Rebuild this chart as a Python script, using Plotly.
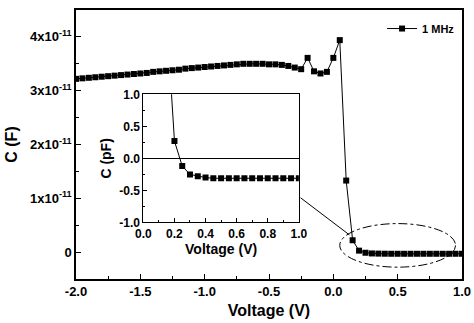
import plotly.graph_objects as go

# Voltage (V), step 0.05 from -2.0 to 1.0
voltage = [round(-2.0 + 0.05 * i, 2) for i in range(61)]
# Capacitance in pF
cap_pF = [
    32.2, 32.3, 32.4, 32.5, 32.6, 32.7, 32.8, 32.9, 33.0, 33.1,   # -2.00 .. -1.55
    33.2, 33.3, 33.5, 33.6, 33.7, 33.8, 33.9, 34.1, 34.2, 34.3,   # -1.50 .. -1.05
    34.4, 34.5, 34.6, 34.7, 34.8, 34.9, 35.0, 35.0, 35.0, 35.0,   # -1.00 .. -0.55
    34.9, 34.9, 34.8, 34.6, 34.3, 34.0, 36.1, 33.6, 33.2, 33.5,   # -0.50 .. -0.05
    36.1, 39.4, 13.3, 2.2, 0.27, -0.12, -0.25, -0.28, -0.30, -0.31,  # 0.00 .. 0.45
    -0.31, -0.31, -0.31, -0.31, -0.31, -0.31, -0.31, -0.31, -0.31, -0.31,  # 0.50 .. 0.95
    -0.31,                                                        # 1.00
]
series_name = "1 MHz"

main_x_ticks = [-2.0, -1.5, -1.0, -0.5, 0.0, 0.5, 1.0]
main_x_text = ["-2.0", "-1.5", "-1.0", "-0.5", "0.0", "0.5", "1.0"]
main_y_ticks = [0, 1e-11, 2e-11, 3e-11, 4e-11]
main_y_text = ["0", "1x10<sup>-11</sup>", "2x10<sup>-11</sup>", "3x10<sup>-11</sup>", "4x10<sup>-11</sup>"]
inset_x_ticks = [0.0, 0.2, 0.4, 0.6, 0.8, 1.0]
inset_x_text = ["0.0", "0.2", "0.4", "0.6", "0.8", "1.0"]
inset_y_ticks = [-1.0, -0.5, 0.0, 0.5, 1.0]
inset_y_text = ["-1.0", "-0.5", "0.0", "0.5", "1.0"]

cap_F = [c * 1e-12 for c in cap_pF]
inset_v = [v for v in voltage if v >= 0]
inset_c = [c for v, c in zip(voltage, cap_pF) if v >= 0]

FONT = "Liberation Sans, Arial, sans-serif"
mk = dict(symbol="square", size=6, color="black")

fig = go.Figure()
fig.add_trace(go.Scatter(x=voltage, y=cap_F, mode="lines+markers", name=series_name,
                         line=dict(color="black", width=1), marker=mk,
                         xaxis="x", yaxis="y", showlegend=True))
fig.add_trace(go.Scatter(x=inset_v, y=inset_c, mode="lines+markers", name=series_name,
                         line=dict(color="black", width=1), marker=mk,
                         xaxis="x2", yaxis="y2", showlegend=False))

tickfont = dict(family=FONT, size=13, color="black", weight="bold")
titlefont = dict(family=FONT, size=16, color="black", weight="bold")
itick = dict(family=FONT, size=12, color="black", weight="bold")
ititle = dict(family=FONT, size=14, color="black", weight="bold")

fig.update_layout(
    width=474, height=323,
    margin=dict(l=76, r=11, t=3, b=44),
    paper_bgcolor="white", plot_bgcolor="white",
    font=dict(family=FONT, color="black"),
    xaxis=dict(range=[-2, 1], tickmode="array", tickvals=main_x_ticks, ticktext=main_x_text,
               ticks="inside", ticklen=5, tickwidth=1, tickcolor="black",
               minor=dict(ticks="inside", ticklen=3, tick0=-2, dtick=0.25, tickcolor="black"),
               showline=True, linecolor="black", linewidth=1.5, mirror=True,
               showgrid=False, zeroline=False, tickfont=tickfont,
               title=dict(text="Voltage (V)", font=titlefont, standoff=6)),
    yaxis=dict(range=[-0.5e-11, 4.5e-11], tickmode="array", tickvals=main_y_ticks, ticktext=main_y_text,
               ticks="inside", ticklen=5, tickwidth=1, tickcolor="black",
               minor=dict(ticks="inside", ticklen=3, tick0=0, dtick=0.5e-11, tickcolor="black"),
               showline=True, linecolor="black", linewidth=1.5, mirror=True,
               showgrid=False, zeroline=False, tickfont=tickfont,
               title=dict(text="C (F)", font=titlefont, standoff=8)),
    xaxis2=dict(domain=[0.1745, 0.5773], anchor="y2", range=[0, 1],
                tickmode="array", tickvals=inset_x_ticks, ticktext=inset_x_text,
                ticks="inside", ticklen=4, tickcolor="black",
                minor=dict(ticks="inside", ticklen=2, tick0=0, dtick=0.1, tickcolor="black"),
                showline=True, linecolor="black", linewidth=1, mirror=True,
                showgrid=False, zeroline=False, tickfont=itick,
                title=dict(text="Voltage (V)", font=ititle, standoff=2)),
    yaxis2=dict(domain=[0.2101, 0.6866], anchor="x2", range=[-1.0, 1.0],
                tickmode="array", tickvals=inset_y_ticks, ticktext=inset_y_text,
                ticks="inside", ticklen=4, tickcolor="black",
                minor=dict(ticks="inside", ticklen=2, tick0=0, dtick=0.25, tickcolor="black"),
                showline=True, linecolor="black", linewidth=1, mirror=True,
                showgrid=False, zeroline=True, zerolinecolor="black", zerolinewidth=1,
                tickfont=itick,
                title=dict(text="C (pF)", font=ititle, standoff=4)),
    legend=dict(x=0.995, y=0.985, xanchor="right", yanchor="top", bgcolor="rgba(0,0,0,0)",
                font=dict(family=FONT, size=11, color="black", weight="bold"),
                itemwidth=30, tracegroupgap=0),
    shapes=[
        dict(type="circle", xref="x", yref="y", x0=0.05, x1=0.95, y0=-0.28e-11, y1=0.53e-11,
             line=dict(color="black", width=1, dash="dashdot")),
        dict(type="line", xref="x", yref="y", x0=-0.255, y0=1.01e-11, x1=0.125, y1=0.32e-11,
             line=dict(color="black", width=1)),
    ],
)

fig.write_html("out.html")
